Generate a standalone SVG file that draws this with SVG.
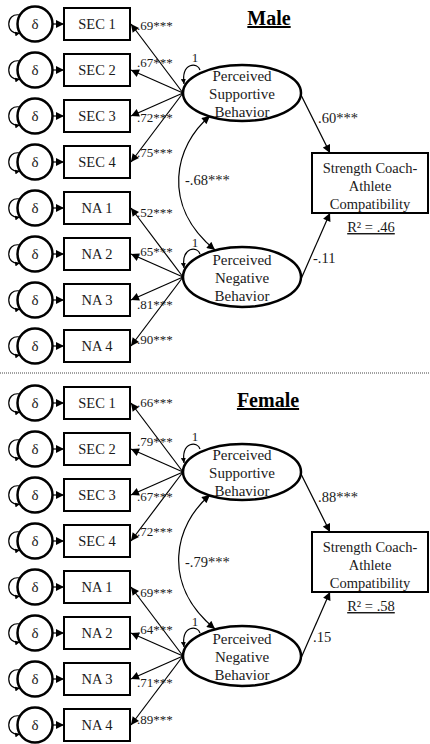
<svg xmlns="http://www.w3.org/2000/svg" width="430" height="744" viewBox="0 0 430 744">
<style>
text{font-family:"Liberation Serif","Times New Roman",serif;fill:#1a1a1a}
.t{font-size:14.5px;text-anchor:middle}
.d{font-size:15px;text-anchor:middle}
.lat{font-size:15px;text-anchor:middle}
.ld{font-size:13px}
.sl{font-size:14.5px}
.one{font-size:13px;text-anchor:middle}
.title{font-size:20px;font-weight:bold;text-anchor:middle;fill:#000;text-decoration:underline}
.r2{font-size:14.5px;text-anchor:middle;text-decoration:underline}
.err{fill:#fff;stroke:#000;stroke-width:2.5}
.box{fill:#fff;stroke:#000;stroke-width:2}
.ell{fill:#fff;stroke:#000;stroke-width:2.5}
.c{fill:none;stroke:#000;stroke-width:1.2;marker-end:url(#ah)}
.loop{fill:none;stroke:#000;stroke-width:1.2;marker-end:url(#sh)}
.cor{fill:none;stroke:#000;stroke-width:1.2;marker-start:url(#ah);marker-end:url(#ah)}
</style>
<defs>
<marker id="ah" viewBox="0 0 10 10" refX="10" refY="5" markerWidth="9" markerHeight="8" markerUnits="userSpaceOnUse" orient="auto-start-reverse"><path d="M0,0 L10,5 L0,10 z" fill="#000"/></marker>
<marker id="sh" viewBox="0 0 10 10" refX="10" refY="5" markerWidth="5" markerHeight="5" markerUnits="userSpaceOnUse" orient="auto"><path d="M0,0 L10,5 L0,10 z" fill="#000"/></marker>
</defs>

<line x1="0" y1="373" x2="430" y2="373" stroke="#444" stroke-width="1" stroke-dasharray="1,1"/>
<text class="title" x="269" y="25">Male</text>
<text class="title" x="268" y="407">Female</text>

<g id="connectors">
 <g id="male-connectors">
  <path class="loop" d="M20,15 C5,12 5,36 20,33"/>
  <path class="loop" d="M20,61 C5,58 5,82 20,79"/>
  <path class="loop" d="M20,107 C5,104 5,128 20,125"/>
  <path class="loop" d="M20,153 C5,150 5,174 20,171"/>
  <path class="loop" d="M20,199 C5,196 5,220 20,217"/>
  <path class="loop" d="M20,245 C5,242 5,266 20,263"/>
  <path class="loop" d="M20,291 C5,288 5,312 20,309"/>
  <path class="loop" d="M20,337 C5,334 5,358 20,355"/>
  <line class="c" x1="53" y1="24" x2="64" y2="24"/>
  <line class="c" x1="53" y1="70" x2="64" y2="70"/>
  <line class="c" x1="53" y1="116" x2="64" y2="116"/>
  <line class="c" x1="53" y1="162" x2="64" y2="162"/>
  <line class="c" x1="53" y1="208" x2="64" y2="208"/>
  <line class="c" x1="53" y1="254" x2="64" y2="254"/>
  <line class="c" x1="53" y1="300" x2="64" y2="300"/>
  <line class="c" x1="53" y1="346" x2="64" y2="346"/>
  <line class="c" x1="183" y1="93" x2="131" y2="24"/>
  <line class="c" x1="183" y1="93" x2="131" y2="70"/>
  <line class="c" x1="183" y1="93" x2="131" y2="116"/>
  <line class="c" x1="183" y1="93" x2="131" y2="162"/>
  <line class="c" x1="183" y1="277" x2="131" y2="208"/>
  <line class="c" x1="183" y1="277" x2="131" y2="254"/>
  <line class="c" x1="183" y1="277" x2="131" y2="300"/>
  <line class="c" x1="183" y1="277" x2="131" y2="346"/>
  <path class="loop" d="M200,70 C198,62 181,62 184,84"/>
  <path class="loop" d="M200,254 C198,246 181,246 184,268"/>
  <path class="cor" d="M210,116 C175,145 160,205 215,250"/>
  <line class="c" x1="301" y1="95" x2="330" y2="153"/>
  <line class="c" x1="301" y1="279" x2="330" y2="213"/>
  <text class="ld" x="137" y="30">.69***</text>
  <text class="ld" x="137" y="67">.67***</text>
  <text class="ld" x="137" y="122">.72***</text>
  <text class="ld" x="137" y="157">.75***</text>
  <text class="ld" x="137" y="217">.52***</text>
  <text class="ld" x="137" y="256">.65***</text>
  <text class="ld" x="137" y="309">.81***</text>
  <text class="ld" x="137" y="344">.90***</text>
  <text class="one" x="195" y="62">1</text>
  <text class="one" x="195" y="247">1</text>
  <text class="sl" x="185" y="185">-.68***</text>
  <text class="sl" x="318" y="123">.60***</text>
  <text class="sl" x="313" y="263">-.11</text>
 </g>
 <g id="female-connectors" transform="translate(0,379)">
  <path class="loop" d="M20,15 C5,12 5,36 20,33"/>
  <path class="loop" d="M20,61 C5,58 5,82 20,79"/>
  <path class="loop" d="M20,107 C5,104 5,128 20,125"/>
  <path class="loop" d="M20,153 C5,150 5,174 20,171"/>
  <path class="loop" d="M20,199 C5,196 5,220 20,217"/>
  <path class="loop" d="M20,245 C5,242 5,266 20,263"/>
  <path class="loop" d="M20,291 C5,288 5,312 20,309"/>
  <path class="loop" d="M20,337 C5,334 5,358 20,355"/>
  <line class="c" x1="53" y1="24" x2="64" y2="24"/>
  <line class="c" x1="53" y1="70" x2="64" y2="70"/>
  <line class="c" x1="53" y1="116" x2="64" y2="116"/>
  <line class="c" x1="53" y1="162" x2="64" y2="162"/>
  <line class="c" x1="53" y1="208" x2="64" y2="208"/>
  <line class="c" x1="53" y1="254" x2="64" y2="254"/>
  <line class="c" x1="53" y1="300" x2="64" y2="300"/>
  <line class="c" x1="53" y1="346" x2="64" y2="346"/>
  <line class="c" x1="183" y1="93" x2="131" y2="24"/>
  <line class="c" x1="183" y1="93" x2="131" y2="70"/>
  <line class="c" x1="183" y1="93" x2="131" y2="116"/>
  <line class="c" x1="183" y1="93" x2="131" y2="162"/>
  <line class="c" x1="183" y1="277" x2="131" y2="208"/>
  <line class="c" x1="183" y1="277" x2="131" y2="254"/>
  <line class="c" x1="183" y1="277" x2="131" y2="300"/>
  <line class="c" x1="183" y1="277" x2="131" y2="346"/>
  <path class="loop" d="M200,70 C198,62 181,62 184,84"/>
  <path class="loop" d="M200,254 C198,246 181,246 184,268"/>
  <path class="cor" d="M210,116 C175,145 160,205 215,250"/>
  <line class="c" x1="301" y1="95" x2="330" y2="153"/>
  <line class="c" x1="301" y1="279" x2="330" y2="213"/>
  <text class="ld" x="137" y="28">.66***</text>
  <text class="ld" x="137" y="67">.79***</text>
  <text class="ld" x="137" y="122">.67***</text>
  <text class="ld" x="137" y="157">.72***</text>
  <text class="ld" x="137" y="218">.69***</text>
  <text class="ld" x="137" y="255">.64***</text>
  <text class="ld" x="137" y="308">.71***</text>
  <text class="ld" x="137" y="345">.89***</text>
  <text class="one" x="195" y="62">1</text>
  <text class="one" x="195" y="247">1</text>
  <text class="sl" x="185" y="188">-.79***</text>
  <text class="sl" x="318" y="123">.88***</text>
  <text class="sl" x="313" y="263">.15</text>
 </g>
</g>

<g id="male-nodes">
 <g id="m-e1"><circle class="err" cx="35" cy="24" r="17.5"/><text class="d" x="35" y="29">δ</text></g>
 <g id="m-e2"><circle class="err" cx="35" cy="70" r="17.5"/><text class="d" x="35" y="75">δ</text></g>
 <g id="m-e3"><circle class="err" cx="35" cy="116" r="17.5"/><text class="d" x="35" y="121">δ</text></g>
 <g id="m-e4"><circle class="err" cx="35" cy="162" r="17.5"/><text class="d" x="35" y="167">δ</text></g>
 <g id="m-e5"><circle class="err" cx="35" cy="208" r="17.5"/><text class="d" x="35" y="213">δ</text></g>
 <g id="m-e6"><circle class="err" cx="35" cy="254" r="17.5"/><text class="d" x="35" y="259">δ</text></g>
 <g id="m-e7"><circle class="err" cx="35" cy="300" r="17.5"/><text class="d" x="35" y="305">δ</text></g>
 <g id="m-e8"><circle class="err" cx="35" cy="346" r="17.5"/><text class="d" x="35" y="351">δ</text></g>
 <g id="m-sec1"><rect class="box" x="64" y="8" width="66" height="32"/><text class="t" x="97" y="29">SEC 1</text></g>
 <g id="m-sec2"><rect class="box" x="64" y="54" width="66" height="32"/><text class="t" x="97" y="75">SEC 2</text></g>
 <g id="m-sec3"><rect class="box" x="64" y="100" width="66" height="32"/><text class="t" x="97" y="121">SEC 3</text></g>
 <g id="m-sec4"><rect class="box" x="64" y="146" width="66" height="32"/><text class="t" x="97" y="167">SEC 4</text></g>
 <g id="m-na1"><rect class="box" x="64" y="192" width="66" height="32"/><text class="t" x="97" y="213">NA 1</text></g>
 <g id="m-na2"><rect class="box" x="64" y="238" width="66" height="32"/><text class="t" x="97" y="259">NA 2</text></g>
 <g id="m-na3"><rect class="box" x="64" y="284" width="66" height="32"/><text class="t" x="97" y="305">NA 3</text></g>
 <g id="m-na4"><rect class="box" x="64" y="330" width="66" height="32"/><text class="t" x="97" y="351">NA 4</text></g>
 <g id="m-psb"><ellipse class="ell" cx="242" cy="93" rx="59" ry="28"/><text class="lat" x="242" y="81">Perceived</text><text class="lat" x="242" y="99">Supportive</text><text class="lat" x="242" y="117">Behavior</text></g>
 <g id="m-pnb"><ellipse class="ell" cx="242" cy="277" rx="59" ry="30"/><text class="lat" x="242" y="265">Perceived</text><text class="lat" x="242" y="283">Negative</text><text class="lat" x="242" y="301">Behavior</text></g>
 <g id="m-sca"><rect class="box" x="312" y="153" width="116" height="60"/><text class="t" x="370" y="173">Strength Coach-</text><text class="t" x="370" y="191">Athlete</text><text class="t" x="370" y="209">Compatibility</text><text class="r2" x="371" y="232">R² = .46</text></g>
</g>

<g id="female-nodes" transform="translate(0,379)">
 <g id="f-e1"><circle class="err" cx="35" cy="24" r="17.5"/><text class="d" x="35" y="29">δ</text></g>
 <g id="f-e2"><circle class="err" cx="35" cy="70" r="17.5"/><text class="d" x="35" y="75">δ</text></g>
 <g id="f-e3"><circle class="err" cx="35" cy="116" r="17.5"/><text class="d" x="35" y="121">δ</text></g>
 <g id="f-e4"><circle class="err" cx="35" cy="162" r="17.5"/><text class="d" x="35" y="167">δ</text></g>
 <g id="f-e5"><circle class="err" cx="35" cy="208" r="17.5"/><text class="d" x="35" y="213">δ</text></g>
 <g id="f-e6"><circle class="err" cx="35" cy="254" r="17.5"/><text class="d" x="35" y="259">δ</text></g>
 <g id="f-e7"><circle class="err" cx="35" cy="300" r="17.5"/><text class="d" x="35" y="305">δ</text></g>
 <g id="f-e8"><circle class="err" cx="35" cy="346" r="17.5"/><text class="d" x="35" y="351">δ</text></g>
 <g id="f-sec1"><rect class="box" x="64" y="8" width="66" height="32"/><text class="t" x="97" y="29">SEC 1</text></g>
 <g id="f-sec2"><rect class="box" x="64" y="54" width="66" height="32"/><text class="t" x="97" y="75">SEC 2</text></g>
 <g id="f-sec3"><rect class="box" x="64" y="100" width="66" height="32"/><text class="t" x="97" y="121">SEC 3</text></g>
 <g id="f-sec4"><rect class="box" x="64" y="146" width="66" height="32"/><text class="t" x="97" y="167">SEC 4</text></g>
 <g id="f-na1"><rect class="box" x="64" y="192" width="66" height="32"/><text class="t" x="97" y="213">NA 1</text></g>
 <g id="f-na2"><rect class="box" x="64" y="238" width="66" height="32"/><text class="t" x="97" y="259">NA 2</text></g>
 <g id="f-na3"><rect class="box" x="64" y="284" width="66" height="32"/><text class="t" x="97" y="305">NA 3</text></g>
 <g id="f-na4"><rect class="box" x="64" y="330" width="66" height="32"/><text class="t" x="97" y="351">NA 4</text></g>
 <g id="f-psb"><ellipse class="ell" cx="242" cy="93" rx="59" ry="28"/><text class="lat" x="242" y="81">Perceived</text><text class="lat" x="242" y="99">Supportive</text><text class="lat" x="242" y="117">Behavior</text></g>
 <g id="f-pnb"><ellipse class="ell" cx="242" cy="277" rx="59" ry="30"/><text class="lat" x="242" y="265">Perceived</text><text class="lat" x="242" y="283">Negative</text><text class="lat" x="242" y="301">Behavior</text></g>
 <g id="f-sca"><rect class="box" x="312" y="153" width="116" height="60"/><text class="t" x="370" y="173">Strength Coach-</text><text class="t" x="370" y="191">Athlete</text><text class="t" x="370" y="209">Compatibility</text><text class="r2" x="371" y="232">R² = .58</text></g>
</g>
</svg>
